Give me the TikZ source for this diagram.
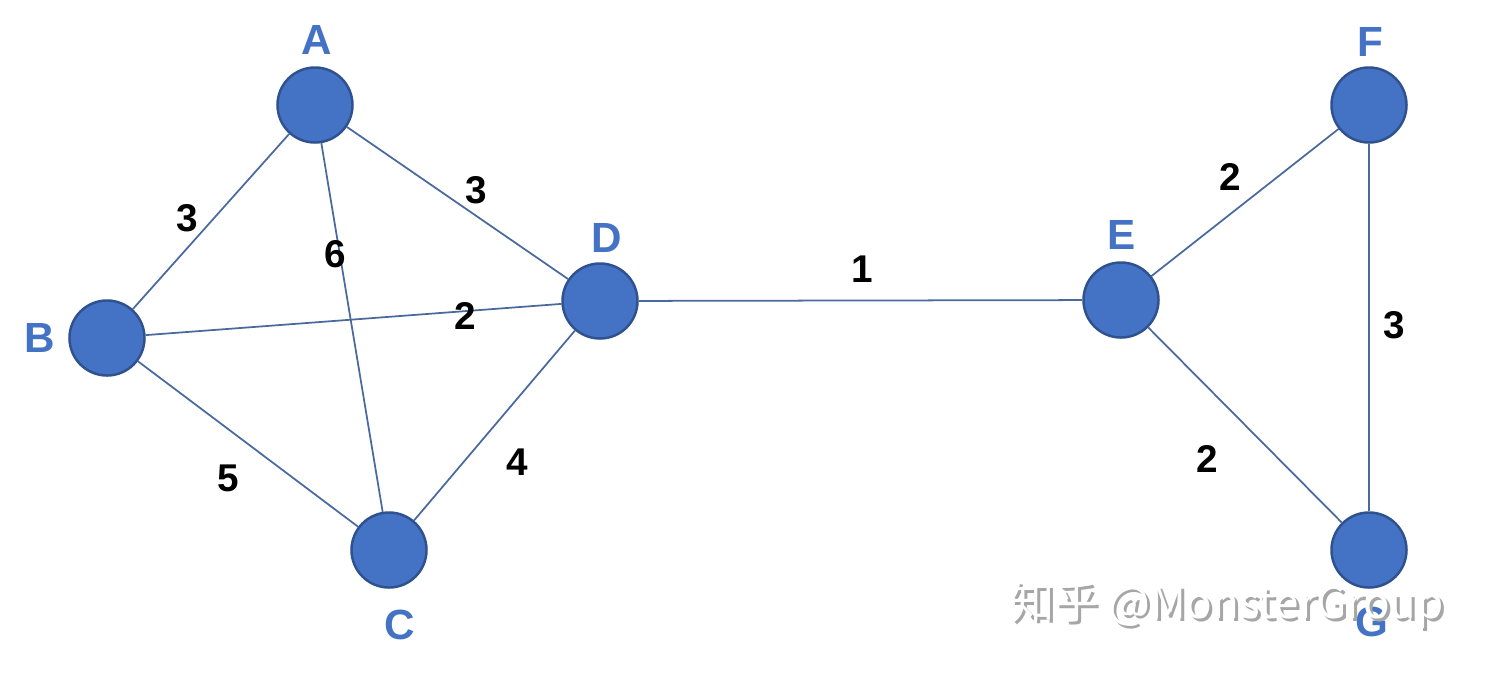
\documentclass[tikz,border=0pt]{standalone}
\usepackage{fontspec}
\setmainfont{Liberation Sans}
\newfontfamily\cjkfont{Noto Sans CJK SC}
\definecolor{nodefill}{HTML}{4472C4}
\definecolor{nodeline}{HTML}{2F528F}
\definecolor{edgecol}{HTML}{4A6A9E}
\begin{document}
\begin{tikzpicture}[x=0.01cm,y=-0.01cm,
  vert/.style={circle,fill=nodefill,draw=nodeline,line width=0.7pt,minimum size=0.75cm,inner sep=0pt},
  vlabel/.style={text=nodefill,font=\fontsize{12}{14}\selectfont\bfseries},
  wlabel/.style={text=black,font=\fontsize{11}{13}\selectfont\bfseries},
  wmark/.style={font=\fontsize{12.5}{15}\selectfont\cjkfont,anchor=west,inner sep=0pt},
  edge/.style={draw=edgecol,line width=0.5pt}]
\useasboundingbox (0,0) rectangle (1487,672);
\node[vert] (A) at (315,105) {};
\node[vert] (B) at (107,338) {};
\node[vert] (C) at (389,550) {};
\node[vert] (D) at (600,301) {};
\node[vert] (E) at (1121,300) {};
\node[vert] (F) at (1369,105) {};
\node[vert] (G) at (1369,550) {};
\draw[edge] (A) -- (B);
\draw[edge] (A) -- (C);
\draw[edge] (A) -- (D);
\draw[edge] (B) -- (D);
\draw[edge] (B) -- (C);
\draw[edge] (C) -- (D);
\draw[edge] (D) -- (E);
\draw[edge] (E) -- (F);
\draw[edge] (E) -- (G);
\draw[edge] (F) -- (G);
\node[vlabel] (lA) at (317,40) {A};
\node[vlabel] (lB) at (40,338) {B};
\node[vlabel] (lC) at (400,625) {C};
\node[vlabel] (lD) at (607,238) {D};
\node[vlabel] (lE) at (1122,235) {E};
\node[vlabel] (lF) at (1370,42) {F};
\node[vlabel] (lG) at (1372,622) {G};
\node[wlabel] (wAB) at (187,218) {3};
\node[wlabel] (wAC) at (335,254) {6};
\node[wlabel] (wAD) at (476,190) {3};
\node[wlabel] (wBD) at (465,316) {2};
\node[wlabel] (wBC) at (228,478) {5};
\node[wlabel] (wCD) at (517,462) {4};
\node[wlabel] (wDE) at (862,269) {1};
\node[wlabel] (wEF) at (1230,177) {2};
\node[wlabel] (wEG) at (1207,459) {2};
\node[wlabel] (wFG) at (1394,325) {3};
\node[wmark,text=gray!70] (wm2) at (1013,608) {知乎 @MonsterGroup};
\node[wmark,text=white] (wm) at (1010,605) {知乎 @MonsterGroup};
\end{tikzpicture}
\end{document}
